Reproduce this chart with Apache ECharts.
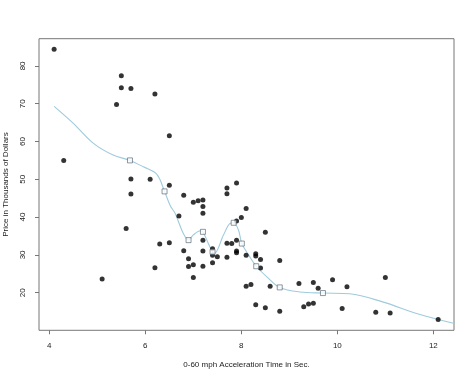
<!DOCTYPE html>
<html>
<head>
<meta charset="utf-8">
<script src="https://cdn.jsdelivr.net/npm/echarts@6/dist/echarts.min.js"></script>
<style>html,body{margin:0;padding:0;background:#fff}#c{width:474px;height:379px}</style>
</head>
<body>
<div id="c"></div>
<script>
// Scatter data: acceleration (sec) and price (thousands)
const accel = [4.1,4.3,5.1,5.4,5.5,5.5,5.6,5.7,5.7,5.7,6.1,6.2,6.2,6.3,6.5,6.5,6.5,6.7,6.8,6.8,6.9,6.9,7.0,7.0,7.0,7.1,7.2,7.2,7.2,7.2,7.2,7.2,7.4,7.4,7.4,7.5,7.7,7.7,7.7,7.7,7.8,7.9,7.9,7.9,7.9,7.9,8.0,8.1,8.1,8.1,8.2,8.3,8.3,8.3,8.4,8.4,8.5,8.5,8.6,8.8,8.8,9.2,9.3,9.4,9.5,9.5,9.6,9.9,10.1,10.2,10.8,11.0,11.1,12.1];
const price = [84.4,55.0,23.6,69.8,77.4,74.2,37.0,74.0,50.1,46.1,50.0,72.6,26.6,32.9,61.5,48.4,33.2,40.3,45.8,31.1,29.0,26.9,43.9,27.4,24.0,44.3,44.5,42.8,41.0,33.9,31.0,27.0,31.6,29.9,27.9,29.5,47.7,46.2,33.1,29.4,33.0,49.0,39.0,33.9,31.0,30.6,39.9,42.3,29.9,21.7,22.2,30.3,29.7,16.8,28.8,26.5,36.0,16.0,21.7,28.5,15.1,22.4,16.3,17.0,17.2,22.7,21.2,23.4,15.8,21.6,14.8,24.0,14.6,12.9];
// Smooth curve
const curveX = [4.10,4.50,4.92,5.33,5.68,5.96,6.24,6.40,6.52,6.62,6.79,6.90,7.00,7.15,7.20,7.31,7.40,7.44,7.63,7.77,7.84,7.94,8.01,8.15,8.31,8.55,8.80,9.22,9.70,10.26,10.96,11.65,12.42];
const curveY = [69.3,64.8,59.5,56.4,55.0,53.3,51.3,46.8,43.0,41.0,35.7,33.9,35.3,36.4,36.1,33.1,30.8,30.4,35.3,38.4,38.5,36.6,33.0,30.0,27.0,24.0,21.4,20.2,19.9,19.7,17.5,14.5,11.9];
// Square markers on the curve
const knotX = [5.68,6.40,6.90,7.20,7.40,7.84,8.01,8.31,8.80,9.70];
const knotY = [55.0,46.8,33.9,36.1,30.8,38.5,33.0,27.0,21.4,19.9];
const xTicks = [4,6,8,10,12];
const yTicks = [20,30,40,50,60,70,80];

const font = 'Liberation Sans, Arial, Helvetica, sans-serif';
const chart = echarts.init(document.getElementById('c'), null, {renderer:'canvas'});
chart.setOption({
  animation: false,
  backgroundColor: '#fff',
  grid: {left: 39, right: 20, top: 38.7, bottom: 48.7, show: true, borderColor: '#777', borderWidth: 1, outerBoundsMode: 'none', containLabel: false},
  xAxis: {
    type: 'value', min: 3.785, max: 12.43,
    name: '0-60 mph Acceleration Time in Sec.', nameLocation: 'middle', nameGap: 30,
    nameTextStyle: {fontFamily: font, fontSize: 8, color: '#222'},
    axisLine: {show: false},
    axisTick: {show: true, length: 4, lineStyle: {color: '#777'}, customValues: xTicks},
    axisLabel: {fontFamily: font, fontSize: 8, color: '#222', margin: 11, customValues: xTicks},
    splitLine: {show: false}
  },
  yAxis: {
    type: 'value', min: 10.05, max: 87.2,
    name: 'Price in Thousands of Dollars', nameLocation: 'middle', nameGap: 29, nameRotate: 90,
    nameTextStyle: {fontFamily: font, fontSize: 8, color: '#222'},
    axisLine: {show: false},
    axisTick: {show: true, length: 4, lineStyle: {color: '#777'}, customValues: yTicks},
    axisLabel: {fontFamily: font, fontSize: 8, color: '#222', margin: 12, rotate: 90, customValues: yTicks},
    splitLine: {show: false}
  },
  series: [
    {type: 'line', data: curveX.map((x,i)=>[x, curveY[i]]), smooth: 0.35, showSymbol: false, symbol: 'none',
     lineStyle: {color: '#9fcbdc', width: 1.1}, z: 2, silent: true},
    {type: 'scatter', data: accel.map((x,i)=>[x, price[i]]), symbol: 'circle', symbolSize: 5,
     itemStyle: {color: '#000'}, z: 3},
    {type: 'scatter', data: knotX.map((x,i)=>[x, knotY[i]]), symbol: 'rect', symbolSize: 5,
     itemStyle: {color: '#fff', borderColor: '#4d5d6d', borderWidth: 0.8}, z: 4}
  ]
});
</script>
</body>
</html>
